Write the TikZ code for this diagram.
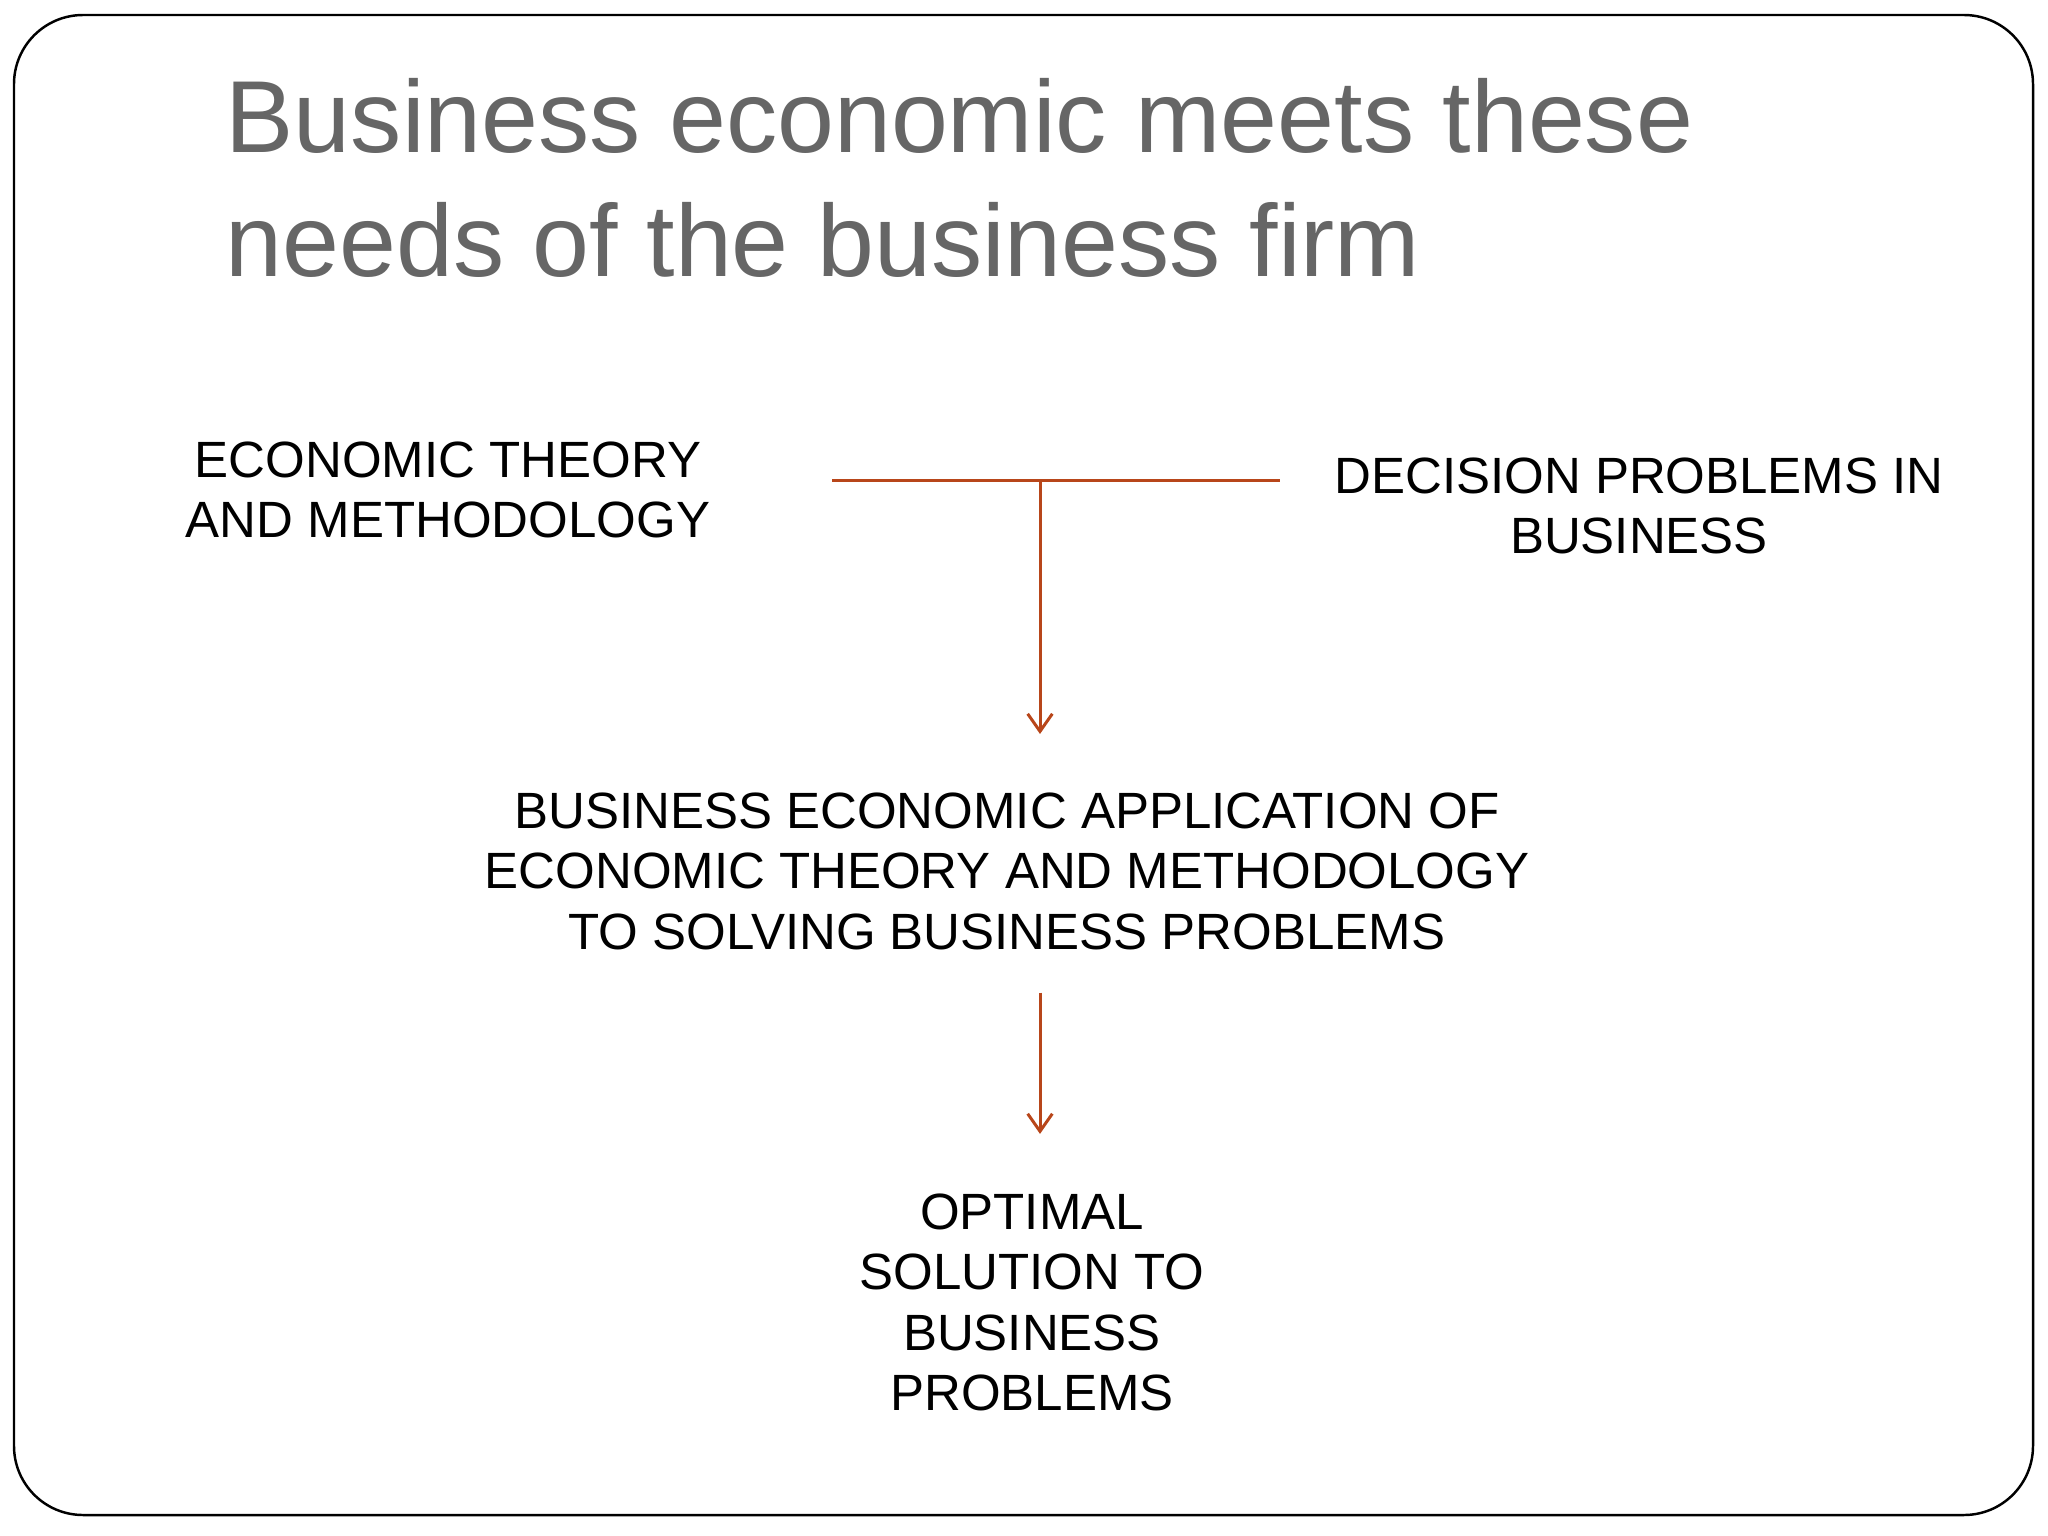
\documentclass[tikz,border=0pt]{standalone}
\usepackage{fontspec}
\setmainfont{Liberation Sans}
\usepackage[rgb]{xcolor}
\usepackage{tikz}
\usetikzlibrary{arrows.meta}

\definecolor{linkred}{RGB}{184,70,26}
\definecolor{titlegray}{RGB}{102,102,102}

\begin{document}
\begin{tikzpicture}[x=0.01cm, y=-0.01cm,
  heading/.style={anchor=north west, inner sep=0pt, align=left, text=titlegray,
    font=\fontsize{29.1}{35.3}\selectfont},
  boxtext/.style={anchor=north, inner sep=0pt, align=center,
    font=\fontsize{14.5}{17.2}\selectfont},
  link/.style={draw=linkred, line width=0.85pt},
  linkarrow/.style={link, -{Straight Barb[length=5pt, width=7pt]}}]

\useasboundingbox (0,0) rectangle (2048,1536);

% Slide frame
\draw[line width=0.7pt, rounded corners=0.69cm] (14,15) rectangle (2033,1515);

% Title
\path
(225,78) node [heading] (title) {Business economic meets these\\needs of the business firm};



% The two inputs
\path
(448,441) node [boxtext] (theory) {ECONOMIC THEORY\\AND METHODOLOGY};

\path
(1639,457) node [boxtext] (decision) {DECISION PROBLEMS IN\\BUSINESS};

\coordinate (joinL) at (832,480);
\coordinate (joinR) at (1280,480);
\coordinate (join) at (1040,480);

\draw[link] (joinL) -- (joinR);



% Application
\path
(1007,792) node [boxtext] (apply) {BUSINESS ECONOMIC APPLICATION OF\\ECONOMIC THEORY AND METHODOLOGY\\TO SOLVING BUSINESS PROBLEMS};

\draw[linkarrow, shorten >=16.5pt] (join) -- (join |- apply.north);



% Outcome
\path
(1032,1193) node [boxtext] (optimal) {OPTIMAL\\SOLUTION TO\\BUSINESS\\PROBLEMS};

\draw[linkarrow, shorten <=12pt, shorten >=16.8pt] (join |- apply.south) -- (join |- optimal.north);


\end{tikzpicture}
\end{document}
